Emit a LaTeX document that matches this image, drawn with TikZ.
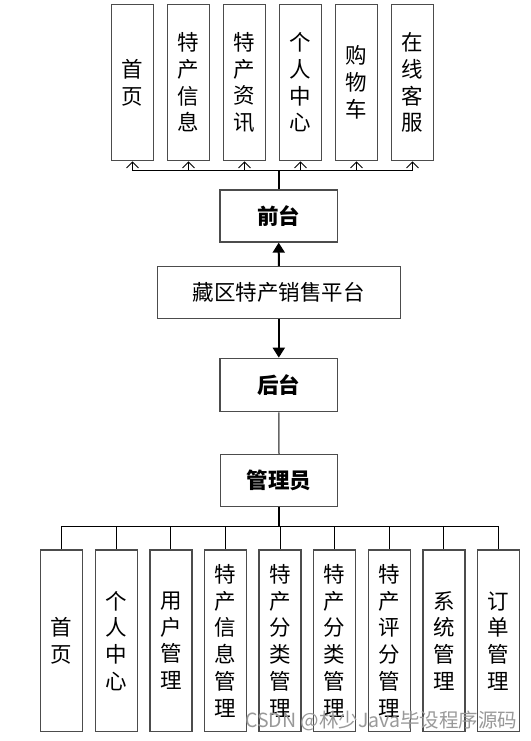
\documentclass[tikz,border=0pt]{standalone}
\usepackage{fontspec}
\newfontfamily\cjk{Noto Sans CJK SC}
\usetikzlibrary{arrows.meta}
\begin{document}
\begin{tikzpicture}[x=1pt,y=-1pt,
  frame/.style={draw=black!70, line width=1.3pt, fill=white, inner sep=0pt, align=center,
    font=\cjk\fontsize{21.5}{26.7}\selectfont},
  tbox/.style={frame, minimum width=41.7pt, minimum height=156.4pt},
  bbox/.style={frame, minimum width=42pt, minimum height=181.7pt},
  hbox/.style={frame, minimum height=52pt},
  link/.style={draw=black, line width=1pt},
  trunk/.style={draw=black, line width=2pt},
  barb/.style={-{Straight Barb[length=6pt,width=12pt,line width=0.9pt]}},
  bigtip/.style={-{Triangle[length=10pt,width=12pt]}},
  ]
\useasboundingbox[fill=white] (0,0) rectangle (530,741);

% top modules
\node[tbox] (t1) at (132.5,82.5) {首\\页};
\node[tbox] (t2) at (188.5,82.5) {特\\产\\信\\息};
\node[tbox] (t3) at (244.5,82.5) {特\\产\\资\\讯};
\node[tbox] (t4) at (300.5,82.5) {个\\人\\中\\心};
\node[tbox] (t5) at (356.5,82.5) {购\\物\\车};
\node[tbox] (t6) at (412.5,82.5) {在\\线\\客\\服};

% central boxes
\node[hbox, minimum width=117.3pt, font=\cjk\bfseries\fontsize{21.5}{26.7}\selectfont] (front) at (278.7,216) {前台};
\node[hbox, minimum width=243pt] (plat) at (278.8,292.8) {藏区特产销售平台};
\node[hbox, minimum width=117.7pt, minimum height=53.4pt, font=\cjk\bfseries\fontsize{21.5}{26.7}\selectfont] (back) at (278.8,385) {后台};
\node[hbox, minimum width=116.6pt, font=\cjk\bfseries\fontsize{21.5}{26.7}\selectfont] (admin) at (279,480.7) {管理员};

% bottom modules
\node[bbox] (b1) at (61.7,640.8) {首\\页};
\node[bbox] (b2) at (116.3,640.8) {个\\人\\中\\心};
\node[bbox] (b3) at (170.9,640.8) {用\\户\\管\\理};
\node[bbox] (b4) at (225.5,640.8) {特\\产\\信\\息\\管\\理};
\node[bbox] (b5) at (280.1,640.8) {特\\产\\分\\类\\管\\理};
\node[bbox] (b6) at (334.7,640.8) {特\\产\\分\\类\\管\\理};
\node[bbox] (b7) at (389.3,640.8) {特\\产\\评\\分\\管\\理};
\node[bbox] (b8) at (443.9,640.8) {系\\统\\管\\理};
\node[bbox] (b9) at (498.5,640.8) {订\\单\\管\\理};

% top connectors
\coordinate (tbus) at (278.7,170.7);
\draw[trunk] (front.north) -- (tbus);
\foreach \n in {t1,t2,t3,t4,t5,t6}
  \draw[link, barb] (tbus) -| (\n.south);

% main arrows
\draw[trunk, bigtip] (plat.north) -- (front.south);
\draw[trunk, bigtip] (plat.south) -- (back.north);
\draw[draw=black!60, line width=1.5pt] (back.south) -- (admin.north);

% bottom connectors
\coordinate (bbus) at (279,526.3);
\draw[trunk] (admin.south) -- (bbus);
\foreach \n in {b1,b2,b3,b4,b5,b6,b7,b8,b9}
  \draw[link] (bbus) -| (\n.north);

% watermark
\node[anchor=west, inner sep=0pt, text=black!40, font=\cjk\fontsize{19.5}{20}\selectfont] (wm) at (245,720.5) {CSDN @林少Java毕设程序源码};
\end{tikzpicture}
\end{document}
